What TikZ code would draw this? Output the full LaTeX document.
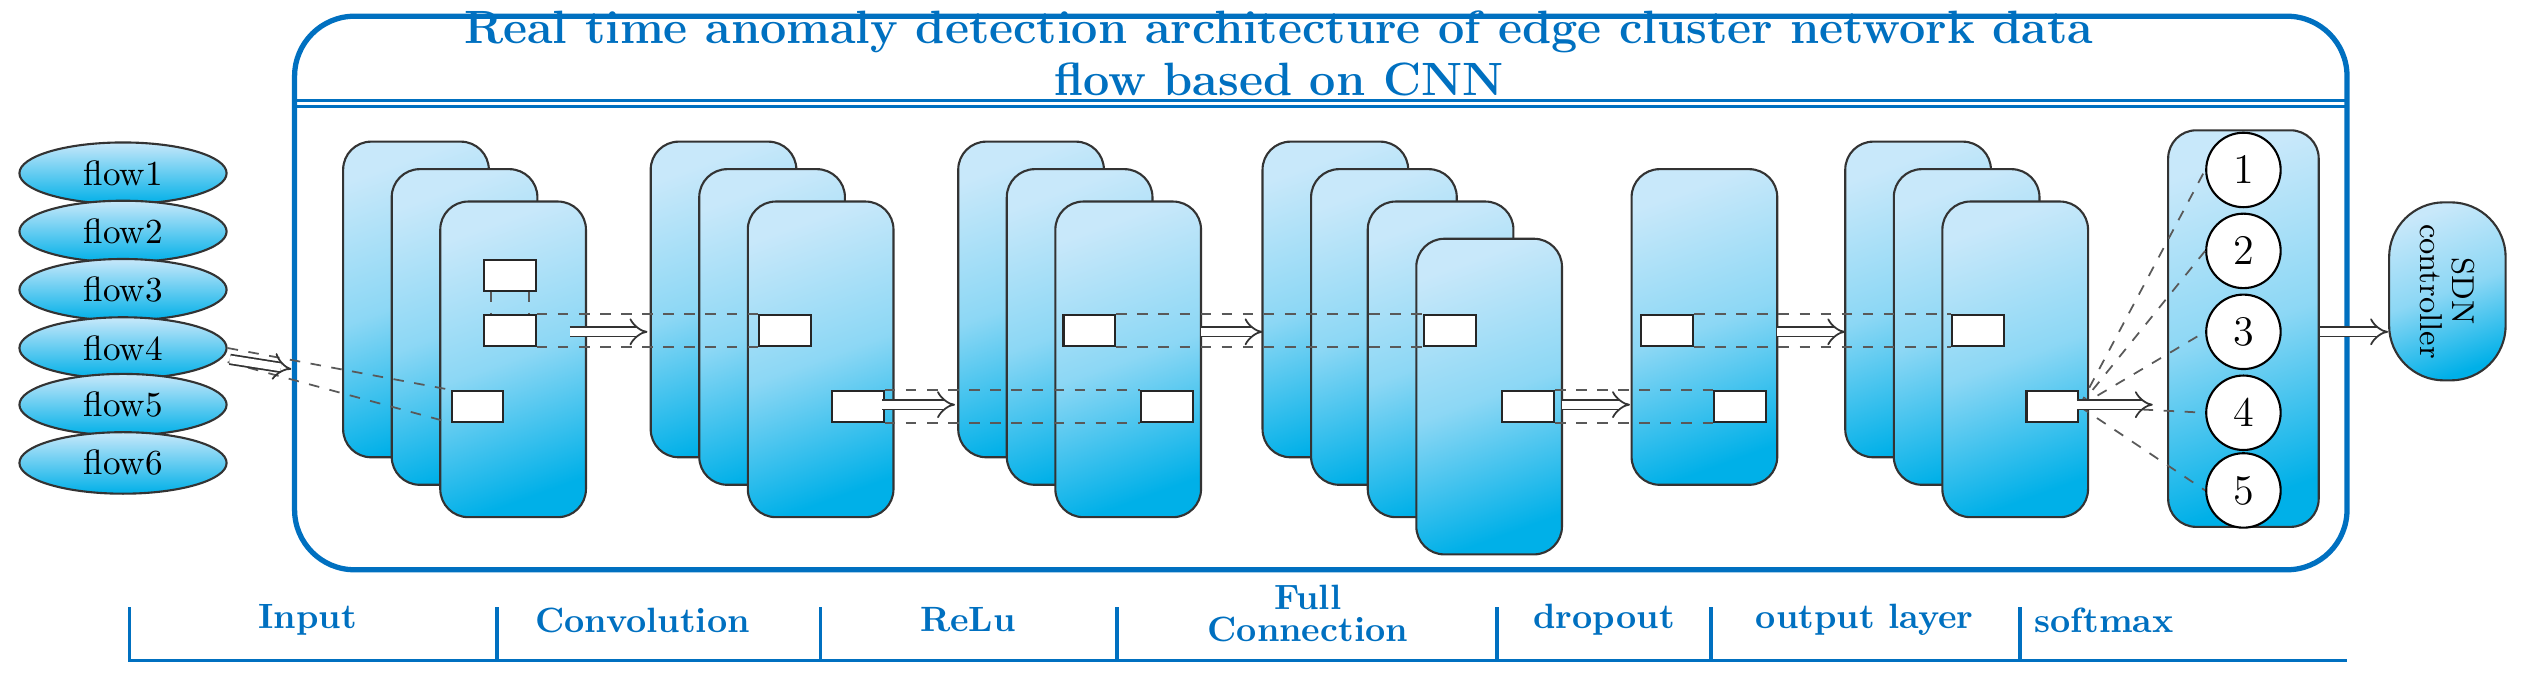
\documentclass[tikz,border=0pt]{standalone}
\usetikzlibrary{arrows.meta,shapes.geometric}
\definecolor{fb}{RGB}{0,112,192}
\definecolor{lb}{RGB}{200,232,250}
\definecolor{db}{RGB}{0,176,232}
\def\U{0.01619}
\tikzset{
 layer/.style={draw=black!80,line width=0.6pt,rounded corners=0.28cm,minimum width={90*\U cm},minimum height={195*\U cm},top color=lb,bottom color=db,middle color=lb!70!db,shading angle=20},
 sq/.style={draw=black!85,fill=white,line width=0.6pt,minimum width={32*\U cm},minimum height={19*\U cm},inner sep=0pt},
 flow/.style={ellipse,draw=black!80,line width=0.6pt,minimum width={128*\U cm},minimum height={38*\U cm},top color=lb,bottom color=db,font=\normalsize,inner sep=0pt},
 circ/.style={circle,draw=black,fill=white,line width=0.6pt,minimum size={46*\U cm},font=\large},
 dl/.style={dashed,gray!70!black,line width=0.5pt},
 darr/.style={double=white,draw=black!80,double distance=2.2pt,line width=0.5pt,-{Implies[length=5pt]}},
 lab/.style={text=fb,font=\bfseries\normalsize,align=center},
}
\begin{document}
\begin{tikzpicture}[x=\U cm,y=-\U cm]
\useasboundingbox (0,0) rectangle (1568,425);
% frame
\draw[fb,line width=1.5pt,rounded corners=0.6cm] (182,10) rectangle (1450,352);
\draw[fb,line width=0.8pt] (182,62) -- (1450,62);
\draw[fb,line width=0.8pt] (182,66) -- (1450,66);
\node[lab,font=\bfseries\fontsize{13.3}{15}\selectfont,inner sep=0pt] (title) at (790,33) {Real time anomaly detection architecture of edge cluster network data\\flow based on CNN};
% flows
\foreach \i/\y in {1/107,2/143,3/179,4/215,5/250,6/286}{
  \node[flow] (f\i) at (76,\y) {flow\i};}
% input
\node[layer] (ia) at (257,185) {};
\node[layer] (ib) at (287,202) {};
\node[layer] (ic) at (317,222) {};
\node[sq] (is1) at (315,170) {};
\node[sq] (is2) at (315,204) {};
\node[sq] (is3) at (295,251) {};
% conv
\node[layer] (ca) at (447,185) {};
\node[layer] (cb) at (477,202) {};
\node[layer] (cc) at (507,222) {};
\node[sq] (cs1) at (485,204) {};
\node[sq] (cs2) at (530,251) {};
% relu
\node[layer] (ra) at (637,185) {};
\node[layer] (rb) at (667,202) {};
\node[layer] (rc) at (697,222) {};
\node[sq] (rs1) at (673,204) {};
\node[sq] (rs2) at (721,251) {};
% full
\node[layer] (fa) at (825,185) {};
\node[layer] (fb1) at (855,202) {};
\node[layer] (fc) at (890,222) {};
\node[layer] (fd) at (920,245) {};
\node[sq] (fs1) at (896,204) {};
\node[sq] (fs2) at (944,251) {};
% dropout
\node[layer] (da) at (1053,202) {};
\node[sq] (ds1) at (1030,204) {};
\node[sq] (ds2) at (1075,251) {};
% output
\node[layer] (oa) at (1185,185) {};
\node[layer] (ob) at (1215,202) {};
\node[layer] (oc) at (1245,222) {};
\node[sq] (os1) at (1222,204) {};
\node[sq] (os2) at (1268,251) {};
% softmax
\node[layer,minimum width={93*\U cm},minimum height={245*\U cm}] (sm) at (1386,203) {};
\foreach \i/\y in {1/105,2/155,3/205,4/255,5/303}{
  \node[circ] (c\i) at (1386,\y) {\i};}
% SDN
\node[layer,minimum width={72*\U cm},minimum height={110*\U cm},rounded corners=0.55cm] (sdn) at (1512,180) {};
\node[rotate=-90,font=\small,align=center,inner sep=0pt] (sdnt) at (sdn.center) {SDN\\[-2pt]controller};
% dashed connections
\draw[dl] (is1.south west) ++(5,0) coordinate (a1) -- (a1 |- is2.north);
\draw[dl] (is1.south east) ++(-5,0) coordinate (a2) -- (a2 |- is2.north);
\draw[dl] (f4.east) -- (is3.north west);
\draw[dl] ([yshift=-4pt]f4.east) -- (is3.south west);
\foreach \a/\b in {is2/cs1,cs2/rs2,rs1/fs1,fs2/ds2,ds1/os1}{
  \draw[dl] (\a.north east) -- (\b.north west);
  \draw[dl] (\a.south east) -- (\b.south west);}
\foreach \i in {1,...,5}{\draw[dl] (os2.east) -- (c\i.west);}
% arrows
\coordinate (p0) at (142,222); \coordinate (q0) at (180,228);
\draw[darr] (p0) -- (q0);
\foreach \x/\y/\z in {352/205/400,545/250/590,742/205/780,965/250/1007,1098/205/1140,1283/250/1330}{
  \coordinate (p) at (\x,\y); \coordinate (q) at (\z,\y);
  \draw[darr] (p) -- (q);}
\draw[darr] (sm.east |- c3) -- (sdn.west |- c3);
% legend
\draw[fb,line width=1pt] (80,375) -- (80,408) -- (1450,408);
\foreach \x in {307,507,690,925,1057,1248}{\draw[fb,line width=1pt] (\x,375) -- (\x,408);}
\node[lab] (l1) at (190,383) {Input};
\node[lab] (l2) at (397,383) {Convolution};
\node[lab] (l3) at (598,383) {ReLu};
\node[lab] (l4) at (808,379) {Full\\[-3pt]Connection};
\node[lab] (l5) at (991,383) {dropout};
\node[lab] (l6) at (1152,383) {output layer};
\node[lab] (l7) at (1300,383) {softmax};
\end{tikzpicture}
\end{document}
